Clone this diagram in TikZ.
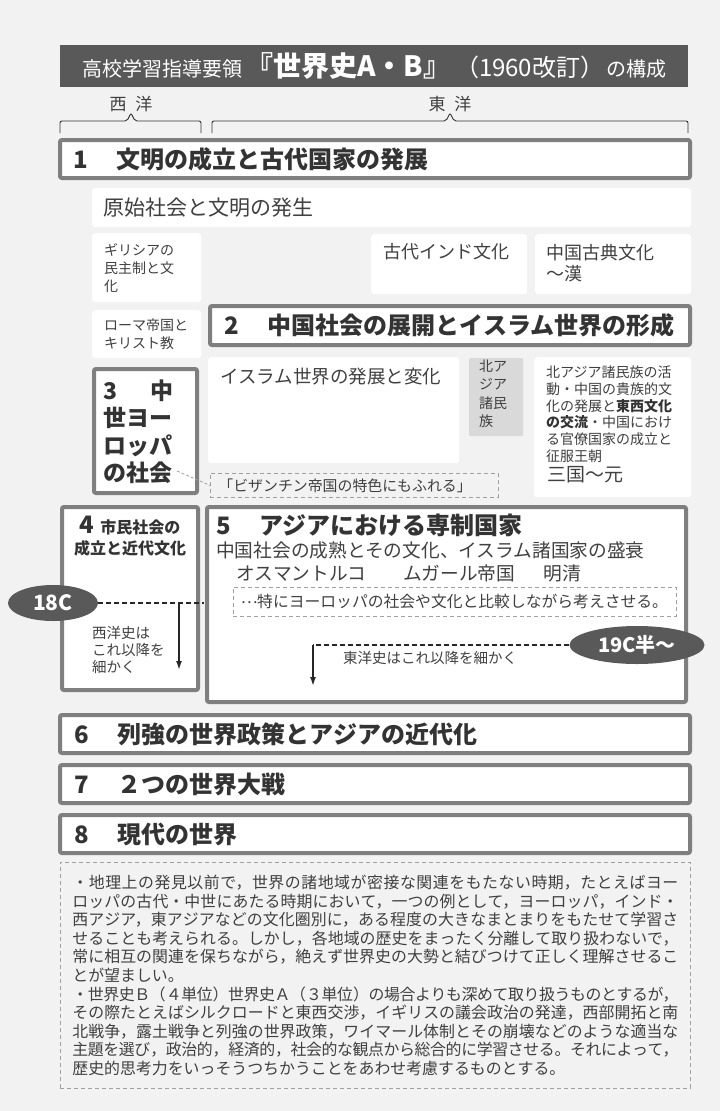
\documentclass[tikz,border=0pt]{standalone}
\usepackage{fontspec}
\setmainfont{Noto Sans CJK JP}
\usepackage{xcolor}
\definecolor{mybg}{RGB}{242,242,242}
\definecolor{mydark}{RGB}{89,89,89}
\definecolor{myline}{RGB}{127,127,127}
\definecolor{myink}{RGB}{64,64,64}
\definecolor{myhead}{RGB}{51,51,51}
\definecolor{mygray}{RGB}{217,217,217}
\definecolor{mydash}{RGB}{160,160,160}
\usepackage{tikz}
\usetikzlibrary{positioning}
\usetikzlibrary{arrows.meta}
\usetikzlibrary{chains,shapes}
\setlength{\parindent}{0pt}
\newcommand{\fsz}[2]{\fontsize{#1}{#2}\selectfont}
\newcommand{\chapno}[2]{\makebox[44pt][l]{#1}#2}

\begin{document}
\begin{tikzpicture}[x=1pt,y=-1pt,
  every node/.style={inner sep=0pt,text=myink},
  chnode/.style={draw=myline,line width=4pt,outer sep=0pt,fill=white,rounded corners=2pt,anchor=north west},
  chtext/.style={chnode,inner xsep=13pt,align=left,text=myhead,font=\bfseries\fsz{24}{28}},
  wtnode/.style={fill=white,rounded corners=3pt,anchor=north west},
  dbnode/.style={draw=mydash,line width=0.8pt,dash pattern=on 4pt off 3pt,anchor=north west},
  ernode/.style={ellipse,fill=mydark,text=white,font=\bfseries\fsz{21}{25}},
  eradash/.style={line width=1.6pt,dash pattern=on 5pt off 3pt,black!85},
  ptrdash/.style={line width=0.8pt,dash pattern=on 3pt off 2pt,mydash},
  godown/.style={line width=1.6pt,black!85,-{Latex[length=9pt,width=6pt]}},
  bracepen/.style={line width=0.9pt,myhead,rounded corners=2pt}]

\fill[mybg] (0,0) rectangle (720,1111);
\useasboundingbox (0,0) rectangle (720,1111);

\node[fill=mydark,anchor=north west,minimum width=628pt,minimum height=42pt] (ttl) at (60,45) {};
\node[text=white] (ttltx) at (ttl.center) {{\fsz{20}{24}高校学習指導要領}\hspace{3pt}{\bfseries\fsz{28}{32}『世界史A・B』}\hspace{4pt}{\fsz{24}{28}（1960改訂）}\hspace{2pt}{\fsz{20}{24}の構成}};

\node[font=\fsz{17}{20}] (west) at (131,104) {西\hspace{9pt}洋};
\node[font=\fsz{17}{20}] (east) at (450,104) {東\hspace{9pt}洋};
\draw[bracepen] (60,133) -- (60,121) -- (127,121) -- (131,113) -- (135,121) -- (201,121) -- (201,133);
\draw[bracepen] (212,133) -- (212,121) -- (446,121) -- (450,113) -- (454,121) -- (688,121) -- (688,133);

\node[chtext,minimum width=630pt,minimum height=38pt,text width=604pt] (b1) at (60,140) {\chapno{1}{文明の成立と古代国家の発展}};

\node[wtnode,minimum width=599pt,minimum height=39pt,inner xsep=11pt,text width=577pt,align=left,font=\fsz{21}{25}] (genshi) at (92,188) {原始社会と文明の発生};

\node[wtnode,minimum width=109pt,minimum height=69pt] (greece) at (92,233) {};
\node[anchor=north west,align=left,font=\fsz{14}{18}] (greecetx) at (104,243.7) {ギリシアの\\民主制と文\\化};
\node[wtnode,minimum width=156pt,minimum height=60pt] (india) at (371,234) {};
\node[anchor=west,font=\fsz{18}{21}] (indiatx) at (383,252) {古代インド文化};
\node[wtnode,minimum width=156pt,minimum height=60pt] (china) at (535,234) {};
\node[anchor=north west,align=left,font=\fsz{18}{21}] (chinatx) at (546,243.9) {中国古典文化\\〜漢};

\node[wtnode,minimum width=109pt,minimum height=48pt] (rome) at (92,310) {};
\node[anchor=north west,align=left,font=\fsz{14}{18}] (rometx) at (104,318.7) {ローマ帝国と\\キリスト教};
\node[chtext,minimum width=480pt,minimum height=39pt,inner xsep=14pt,text width=452pt] (b2) at (210,306) {\chapno{2}{中国社会の展開とイスラム世界の形成}};

\node[chnode,minimum width=103pt,minimum height=124pt] (b3) at (94,369) {};
\node[anchor=north west,text width=70pt,align=left,text=myhead,font=\bfseries\fsz{23}{27.5}] (b3tx) at (103,379.6) {3\hspace{0pt plus 1fill}中\\世ヨー\\ロッパ\\の社会};
\node[wtnode,minimum width=251pt,minimum height=106pt] (islam) at (208,357) {};
\node[anchor=west,font=\fsz{18.5}{22}] (islamtx) at (220,377) {イスラム世界の発展と変化};
\node[fill=mygray,rounded corners=1pt,anchor=north west,minimum width=54pt,minimum height=78pt] (nasia) at (469,358) {};
\node[anchor=north west,align=left,font=\fsz{14}{18.5}] (nasiatx) at (479,359.5) {北ア\\ジア\\諸民\\族};
\node[wtnode,minimum width=157pt,minimum height=140pt] (nomad) at (534,357) {};
\node[anchor=north west,align=left,font=\fsz{14}{16.7}] (nomadtx) at (546,365.7) {北アジア諸民族の活\\動・中国の貴族的文\\化の発展と\textbf{\color{myhead}東西文化}\\\textbf{\color{myhead}の交流}・中国におけ\\る官僚国家の成立と\\征服王朝};
\node[anchor=west,font=\fsz{19}{22}] (nomadera) at (547,475) {三国〜元};

\node[dbnode,minimum width=288pt,minimum height=24pt,inner xsep=8pt,text width=272pt,align=left,font=\fsz{14.9}{18}] (byz) at (210,473) {「ビザンチン帝国の特色にもふれる」};
\coordinate (byzfrom) at (177,471);
\draw[ptrdash] (byzfrom) -- (byz.west);

\node[chnode,minimum width=136pt,minimum height=183pt] (b4) at (62,507) {};
\node[anchor=north,align=center,text=myhead,font=\bfseries\fsz{16}{21}] (b4tx) at (130,516) {{\fsz{24}{21}4}\hspace{6pt}市民社会の\\成立と近代文化};
\node[chnode,minimum width=479pt,minimum height=195pt] (b5) at (207,507) {};
\node[anchor=west,text=myhead,font=\bfseries\fsz{24}{28}] (b5tx) at (216,525) {\makebox[43pt][l]{5}アジアにおける専制国家};
\node[anchor=west,font=\fsz{18.7}{23}] (b5a) at (216,550) {中国社会の成熟とその文化、イスラム諸国家の盛衰};
\node[anchor=west,font=\fsz{18.7}{23}] (b5b) at (236,573) {オスマントルコ\hspace{37pt}ムガール帝国\hspace{28pt}明清};
\node[dbnode,minimum width=443pt,minimum height=29pt,inner xsep=8pt,text width=427pt,align=left,font=\fsz{15.8}{19}] (cmp) at (233,587) {\makebox[15.8pt][c]{\raisebox{.3em}{…}}特にヨーロッパの社会や文化と比較しながら考えさせる。};

\coordinate (wstop) at (204,603);
\coordinate (wturn) at (179,603);
\coordinate (wend) at (179,670);
\coordinate (eturn) at (313,645);
\coordinate (eend) at (313,686);
\node[anchor=north west,align=left,font=\fsz{14.5}{17}] (wtx) at (92,626.5) {西洋史は\\これ以降を\\細かく};
\node[anchor=west,font=\fsz{14.5}{17}] (etx) at (343,658) {東洋史はこれ以降を細かく};
\node[ernode,minimum width=90pt,minimum height=36pt] (e18) at (53,603) {18C};
\node[ernode,minimum width=135pt,minimum height=38pt,font=\bfseries\fsz{20}{24}] (e19) at (637,645) {19C半〜};
\draw[eradash] (e18.east) -- (wstop);
\draw[godown] (wturn) -- (wend);
\draw[eradash] (e19.west) -- (eturn);
\draw[godown] (eturn) -- (eend);

\begin{scope}[start chain=going below,node distance=12pt]
\node[chtext,on chain,minimum width=630pt,minimum height=38pt,inner xsep=14pt,text width=602pt] (b6) at (60,715) {\chapno{6}{列強の世界政策とアジアの近代化}};
\node[chtext,on chain,minimum width=630pt,minimum height=38pt,inner xsep=14pt,text width=602pt] (b7) {\chapno{7}{２つの世界大戦}};
\node[chtext,on chain,minimum width=630pt,minimum height=38pt,inner xsep=14pt,text width=602pt] (b8) {\chapno{8}{現代の世界}};
\end{scope}

\node[dbnode,minimum width=630pt,minimum height=226pt] (note) at (60,862) {};
\node[text width=606pt,align=justify,font=\fsz{15.9}{18.6}] (notetx) at (note.center) {\XeTeXlinebreaklocale "ja"\XeTeXlinebreakskip=0pt plus 3pt minus 1pt
・地理上の発見以前で，世界の諸地域が密接な関連をもたない時期，たとえばヨー\linebreak
ロッパの古代・中世にあたる時期において，一つの例として，ヨーロッパ，インド・\linebreak
西アジア，東アジアなどの文化圏別に，ある程度の大きなまとまりをもたせて学習さ\linebreak
せることも考えられる。しかし，各地域の歴史をまったく分離して取り扱わないで，\linebreak
常に相互の関連を保ちながら，絶えず世界史の大勢と結びつけて正しく理解させるこ\linebreak
とが望ましい。\\
・世界史Ｂ（４単位）世界史Ａ（３単位）の場合よりも深めて取り扱うものとするが，\linebreak
その際たとえばシルクロードと東西交渉，イギリスの議会政治の発達，西部開拓と南\linebreak
北戦争，露土戦争と列強の世界政策，ワイマール体制とその崩壊などのような適当な\linebreak
主題を選び，政治的，経済的，社会的な観点から総合的に学習させる。それによって，\linebreak
歴史的思考力をいっそうつちかうことをあわせ考慮するものとする。};
\end{tikzpicture}
\end{document}
